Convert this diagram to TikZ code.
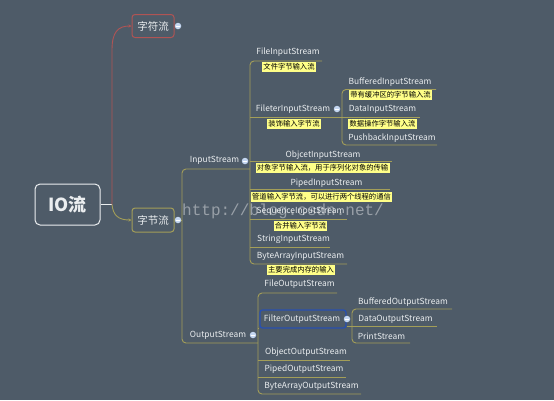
\documentclass[tikz,border=0pt]{standalone}
\usepackage{fontspec}
\setmainfont{Noto Sans CJK SC}
\newfontfamily\wmfont{Liberation Mono}
\usetikzlibrary{arrows.meta}
\definecolor{bg}{RGB}{78,91,104}
\definecolor{oliv}{RGB}{163,158,88}
\definecolor{redl}{RGB}{176,84,84}
\definecolor{txt}{RGB}{235,238,240}
\definecolor{lab}{RGB}{255,255,136}
\definecolor{blu}{RGB}{40,80,175}
\definecolor{dot}{RGB}{196,214,240}
\begin{document}
\begin{tikzpicture}[x=1pt,y=-1pt,
 topic/.style={text=txt,font=\fontsize{8.4}{9}\selectfont,inner sep=0pt,anchor=center},
 note/.style={fill=lab,text=black,font=\fontsize{7.3}{8}\selectfont,inner xsep=1.3pt,inner ysep=0pt,minimum height=10pt,anchor=center},
 conn/.style={draw=oliv,line width=0.9pt,rounded corners=4pt},
 knob/.style={circle,fill=dot,minimum size=6.5pt,inner sep=0pt,
   path picture={\draw[white,line width=0.7pt] ([xshift=-1.7pt]path picture bounding box.center) -- ([xshift=1.7pt]path picture bounding box.center);}},
 mainbox/.style={line width=1pt,rounded corners=3pt,text=txt,inner sep=0pt}]
\useasboundingbox (0,0) rectangle (554,400);
\fill[bg] (0,0) rectangle (554,400);

% ---- main boxes
\node[mainbox,draw=txt,rounded corners=5pt,minimum width=65pt,minimum height=41pt,font=\fontsize{18}{18}\selectfont\bfseries] (io) at (67.5,204.5) {IO流};
\node[mainbox,draw=redl,minimum width=42pt,minimum height=23pt,font=\fontsize{10.5}{11}\selectfont] (zf) at (153,26) {字符流};
\node[mainbox,draw=oliv,minimum width=42pt,minimum height=24pt,font=\fontsize{10.5}{11}\selectfont] (zj) at (153,220) {字节流};

\coordinate (j0) at (112,204.5);
\draw[txt,line width=1pt] (io.east) -- (j0);
\draw[redl,line width=0.9pt,-{Stealth[length=3pt,width=3pt]}] (j0) -- (112,50) .. controls (112,32) and (118,26) .. (zf.west);
\draw[oliv,line width=0.9pt,-{Stealth[length=3pt,width=3pt]}] (j0) .. controls (113,215) and (118,220) .. (zj.west);

% ---- trunk coordinates
\coordinate (tB) at (182,0);
\coordinate (tI) at (250,0);
\coordinate (tF) at (342,0);
\coordinate (tO) at (258,0);
\coordinate (tFO) at (352,0);

\coordinate (uIn) at (250,169);
\coordinate (uOut) at (258,343);

\coordinate (uFIS) at (322,61);
\coordinate (uFilI) at (342,117.5);
\coordinate (uObj) at (392,161);
\coordinate (uPip) at (390,189);
\coordinate (uSeq) at (347,219);
\coordinate (uStr) at (330,247);
\coordinate (uBA) at (347,264);

\coordinate (uBIS) at (436,89.5);
\coordinate (uDIS) at (420,117.5);
\coordinate (uPIS) at (437,145);

\coordinate (uFOS) at (337,293);
\coordinate (uObjO) at (350,360);
\coordinate (uPipO) at (346,377);
\coordinate (uBAO) at (361,394);

\coordinate (uBOS) at (452,309);
\coordinate (uDOS) at (437,326);
\coordinate (uPS) at (410,343);

% ---- connectors
\draw[conn] (uIn) -- (uIn -| tB) -- (uOut -| tB) -- (uOut);
\draw[conn] (zj.east) -- (zj.east -| tB);

\draw[conn] (uFIS) -- (uFIS -| tI) -- (uBA -| tI) -- (uBA);
\foreach \u in {uFilI,uObj,uPip,uSeq,uStr} \draw[conn] (\u -| tI) -- (\u);

\draw[conn] (uBIS) -- (uBIS -| tF) -- (uPIS -| tF) -- (uPIS);
\draw[conn] (uDIS -| tF) -- (uDIS);

\node[draw=blu,line width=1.3pt,rounded corners=2.5pt,minimum width=86pt,minimum height=18pt,inner sep=0pt] (fbox) at (303,319) {};

\draw[conn] (uFOS) -- (uFOS -| tO) -- (uBAO -| tO) -- (uBAO);
\foreach \u in {uObjO,uPipO} \draw[conn] (\u -| tO) -- (\u);
\draw[conn] (fbox.south west -| tO) -- (fbox.south west);

\draw[conn] (uBOS) -- (uBOS -| tFO) -- (uPS -| tFO) -- (uPS);
\draw[conn] (fbox.east |- uDOS) -- (uDOS);

% ---- topics
\node[topic] (is) at (214.5,160) {InputStream};
\node[topic] (os) at (218,335) {OutputStream};

\node[topic] (fis) at (288,52.5) {FileInputStream};
\node[note] (nfis) at (289,67) {文件字节输入流};
\node[topic] (filis) at (293,109) {FileterInputStream};
\node[note] (nfilis) at (294,123.5) {装饰输入字节流};
\node[topic] (bis) at (390,82) {BufferedInputStream};
\node[note] (nbis) at (390.5,95) {带有缓冲区的字节输入流};
\node[topic] (dis) at (382.5,109) {DataInputStream};
\node[note] (ndis) at (382.5,123.5) {数据操作字节输入流};
\node[topic] (pis) at (392,138) {PushbackInputStream};
\node[topic] (ois) at (323,155) {ObjcetInputStream};
\node[note] (nois) at (322.5,168) {对象字节输入流，用于序列化对象的传输};
\node[topic] (pipis) at (326.5,183) {PipedInputStream};
\node[note] (npipis) at (321.5,196.5) {管道输入字节流，可以进行两个线程的通信};
\node[topic] (sis) at (300.5,211) {SequenceInputStream};
\node[note] (nsis) at (300.5,225.5) {合并输入字节流};
\node[topic] (stis) at (293.5,239) {StringInputStream};
\node[topic] (bais) at (300.5,256) {ByteArrayInputStream};
\node[note] (nbais) at (301,270) {主要完成内存的输入};

\node[topic] (fos) at (299.5,284) {FileOutputStream};
\node[topic] (filos) at (302,319) {FilterOutputStream};
\node[topic] (bos) at (403,302) {BufferedOutputStream};
\node[topic] (dos) at (395.5,319) {DataOutputStream};
\node[topic] (ps) at (381.5,336) {PrintStream};
\node[topic] (oos) at (306,352) {ObjectOutputStream};
\node[topic] (pos) at (304,369) {PipedOutputStream};
\node[topic] (baos) at (311.5,386) {ByteArrayOutputStream};

% ---- knobs
\node[knob] (k1) at (178,26) {};
\node[knob] (k2) at (178,220) {};
\node[knob] (k3) at (245,161) {};
\node[knob] (k4) at (253,335) {};
\node[knob] (k5) at (337,109) {};
\node[knob] (k6) at (347,319) {};

% ---- watermark
\node[font=\wmfont\fontsize{16}{16}\selectfont,text=white,opacity=0.42,anchor=west,inner sep=0pt] (wm) at (182,211) {http://blog.csdn.net/};
\end{tikzpicture}
\end{document}
